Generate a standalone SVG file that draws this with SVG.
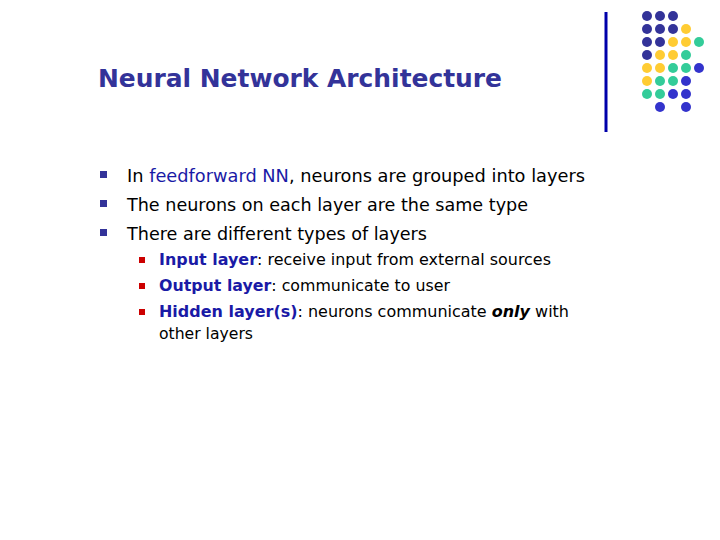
<svg xmlns="http://www.w3.org/2000/svg" width="720" height="540" viewBox="0 0 720 540">
<style>
.t{font-family:"DejaVu Sans","Liberation Sans",sans-serif;fill:#000}
.b1{font-size:18px}.b2{font-size:15px}
.k{fill:#1a1aa6}.kb{fill:#1a1aa6;font-weight:bold}
.n{fill:#333399}.y{fill:#FFCC33}.g{fill:#33CC99}.u{fill:#3333CC}
</style>
<rect width="720" height="540" fill="#fff"/>
<line x1="606" y1="12" x2="606" y2="132" stroke="#0000AA" stroke-width="3"/>
<g id="dots">
<circle class="n" cx="647" cy="16" r="5"/><circle class="n" cx="660" cy="16" r="5"/><circle class="n" cx="673" cy="16" r="5"/>
<circle class="n" cx="647" cy="29" r="5"/><circle class="n" cx="660" cy="29" r="5"/><circle class="n" cx="673" cy="29" r="5"/><circle class="y" cx="686" cy="29" r="5"/>
<circle class="n" cx="647" cy="42" r="5"/><circle class="n" cx="660" cy="42" r="5"/><circle class="y" cx="673" cy="42" r="5"/><circle class="y" cx="686" cy="42" r="5"/><circle class="g" cx="699" cy="42" r="5"/>
<circle class="n" cx="647" cy="55" r="5"/><circle class="y" cx="660" cy="55" r="5"/><circle class="y" cx="673" cy="55" r="5"/><circle class="g" cx="686" cy="55" r="5"/>
<circle class="y" cx="647" cy="68" r="5"/><circle class="y" cx="660" cy="68" r="5"/><circle class="g" cx="673" cy="68" r="5"/><circle class="g" cx="686" cy="68" r="5"/><circle class="u" cx="699" cy="68" r="5"/>
<circle class="y" cx="647" cy="81" r="5"/><circle class="g" cx="660" cy="81" r="5"/><circle class="g" cx="673" cy="81" r="5"/><circle class="u" cx="686" cy="81" r="5"/>
<circle class="g" cx="647" cy="94" r="5"/><circle class="g" cx="660" cy="94" r="5"/><circle class="u" cx="673" cy="94" r="5"/><circle class="u" cx="686" cy="94" r="5"/>
<circle class="u" cx="660" cy="107" r="5"/><circle class="u" cx="686" cy="107" r="5"/>
</g>
<text class="t" x="98" y="87" font-size="24" font-weight="bold" fill="#333399" style="fill:#333399" textLength="404" lengthAdjust="spacingAndGlyphs">Neural Network Architecture</text>
<g fill="#333399"><rect x="100" y="171" width="7" height="7"/><rect x="100" y="200" width="7" height="7"/><rect x="100" y="229" width="7" height="7"/></g>
<g fill="#CC0000"><rect x="139" y="257" width="6" height="6"/><rect x="139" y="283" width="6" height="6"/><rect x="139" y="309" width="6" height="6"/></g>
<text class="t b1" x="127" y="182" textLength="458" lengthAdjust="spacingAndGlyphs">In <tspan class="k">feedforward NN</tspan>, neurons are grouped into layers</text>
<text class="t b1" x="127" y="211" textLength="401" lengthAdjust="spacingAndGlyphs">The neurons on each layer are the same type</text>
<text class="t b1" x="127" y="240" textLength="300" lengthAdjust="spacingAndGlyphs">There are different types of layers</text>
<text class="t b2" x="159" y="265" textLength="392" lengthAdjust="spacingAndGlyphs"><tspan class="kb">Input layer</tspan>: receive input from external sources</text>
<text class="t b2" x="159" y="291" textLength="291" lengthAdjust="spacingAndGlyphs"><tspan class="kb">Output layer</tspan>: communicate to user</text>
<text class="t b2" x="159" y="317" textLength="410" lengthAdjust="spacingAndGlyphs"><tspan class="kb">Hidden layer(s)</tspan>: neurons communicate <tspan font-weight="bold" font-style="italic">only</tspan> with</text>
<text class="t b2" x="159" y="339" textLength="94" lengthAdjust="spacingAndGlyphs">other layers</text>
</svg>
